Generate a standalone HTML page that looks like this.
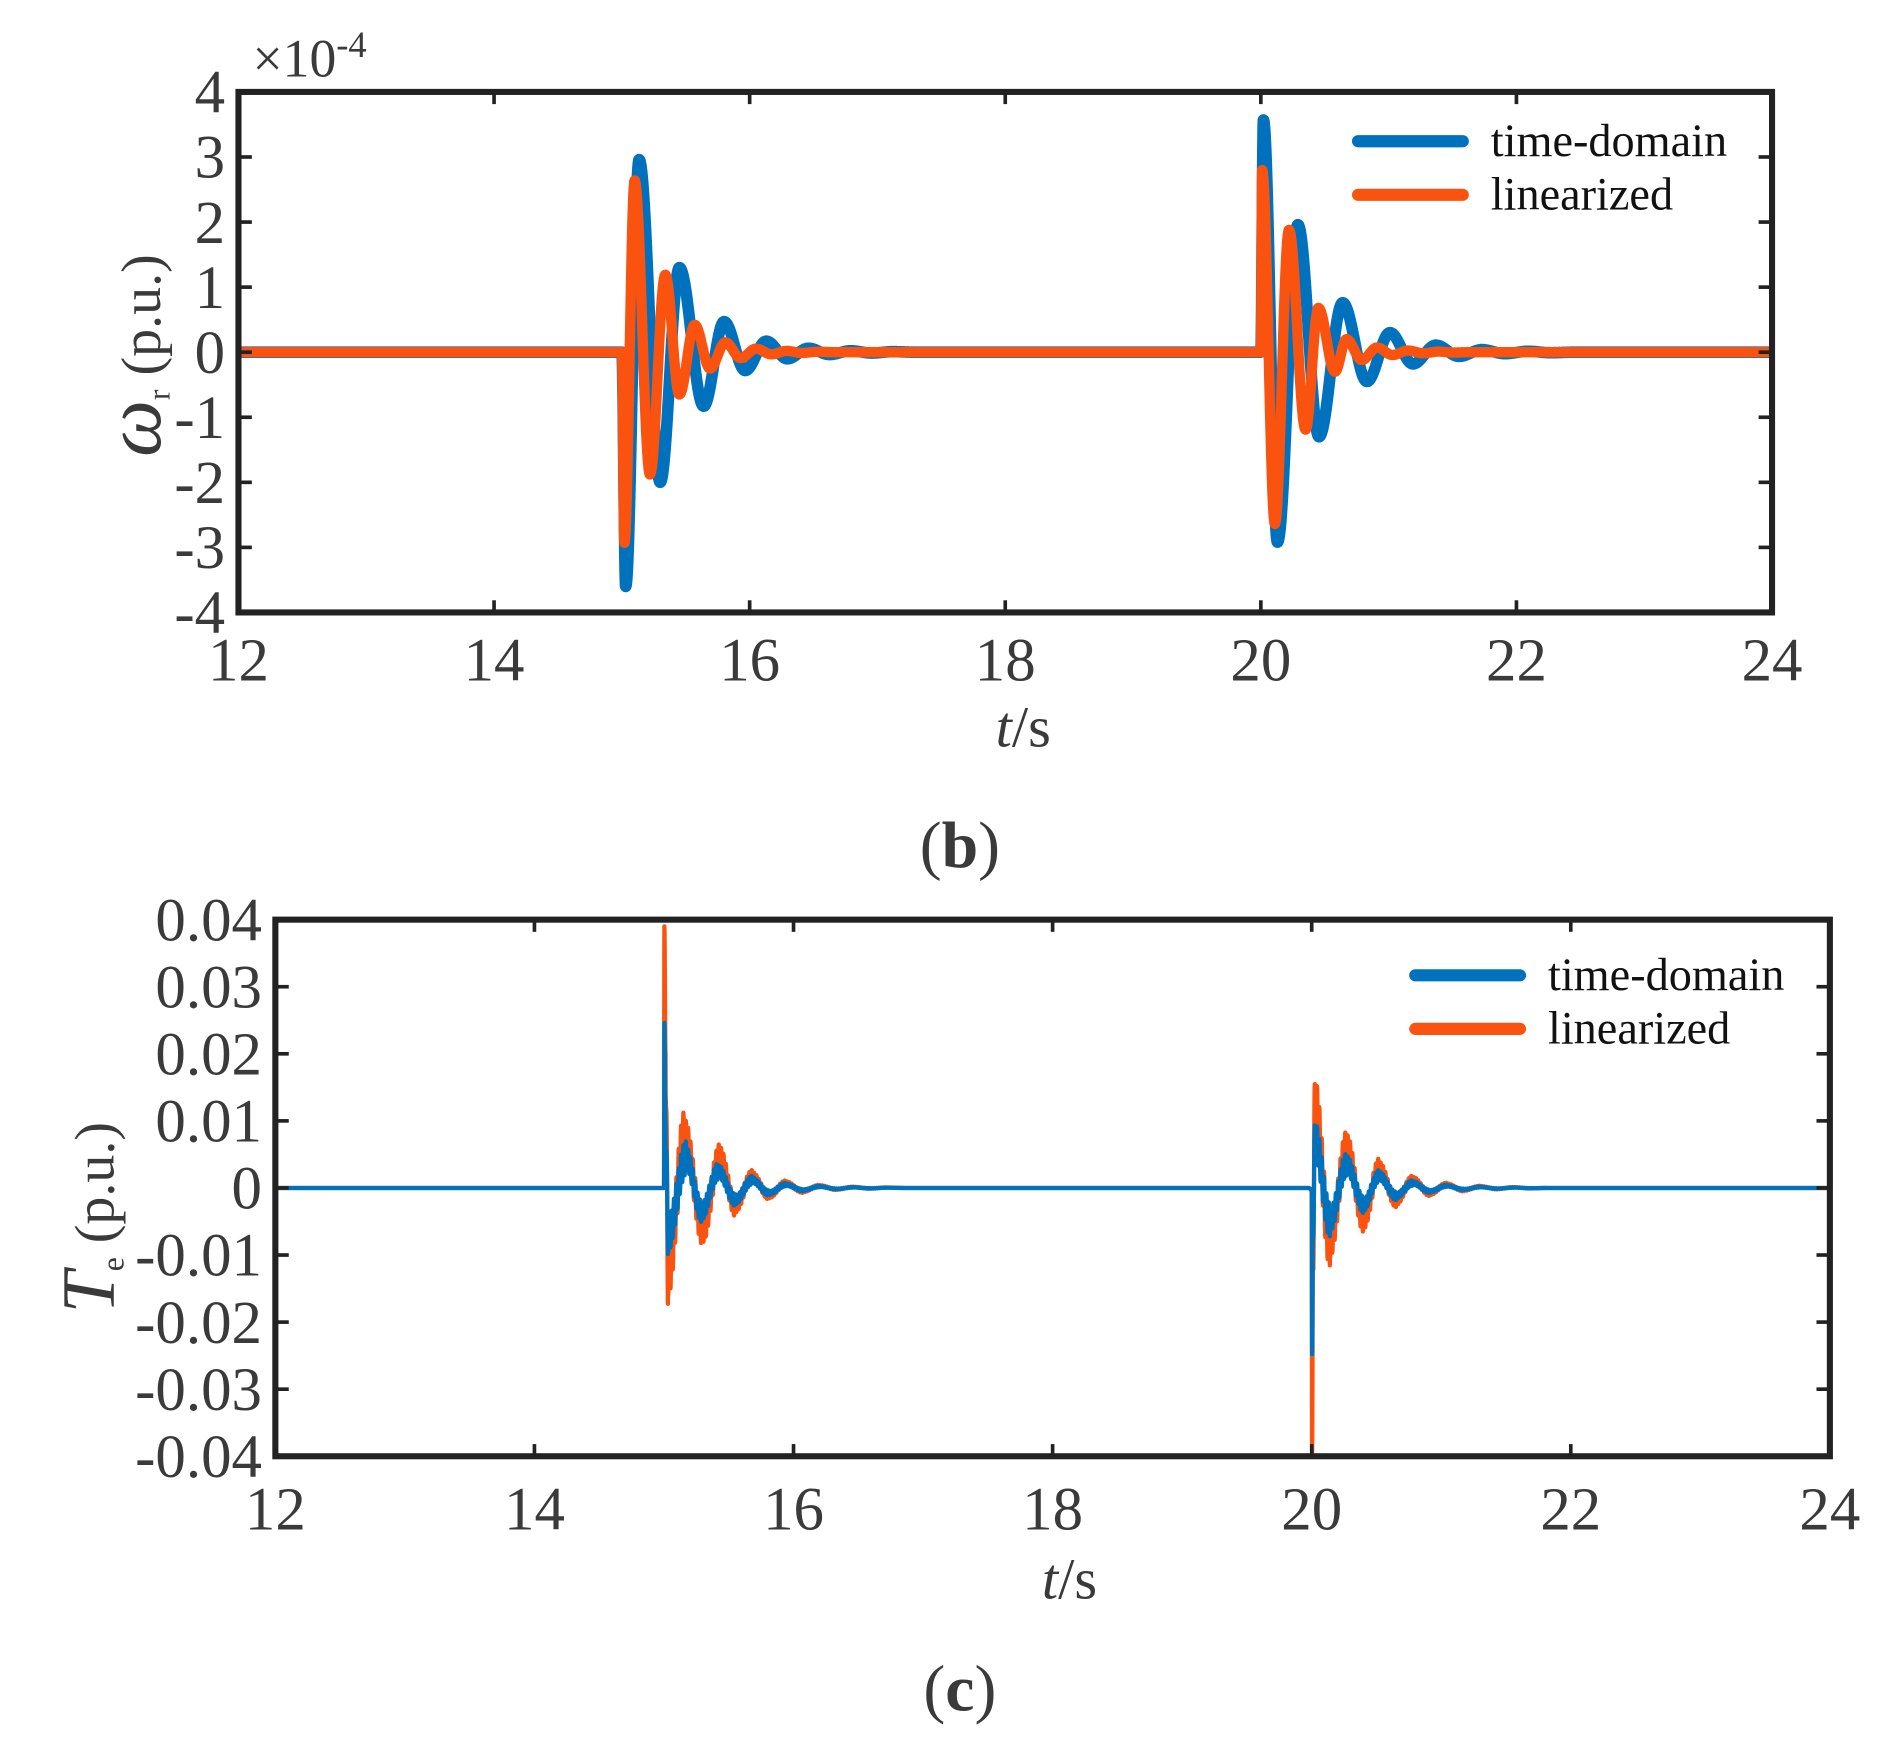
<!DOCTYPE html>
<html><head><meta charset="utf-8"><style>
html,body{margin:0;padding:0;background:#fff}
svg{display:block}
text{font-family:"Liberation Serif",serif;fill:#3a3a3a}
</style></head><body>
<svg id="s" width="1893" height="1757" viewBox="0 0 1554 1443" xmlns="http://www.w3.org/2000/svg">
<g id="gtop"></g>
<g id="gbot"></g>
<text x="207" y="63" font-size="44">×10<tspan dy="-16" font-size="30">-4</tspan></text>
<text x="840" y="613" font-size="48" text-anchor="middle"><tspan font-style="italic">t</tspan>/s</text>
<text x="788" y="712" font-size="54" text-anchor="middle">(<tspan font-weight="bold">b</tspan>)</text>
<text x="878" y="1313" font-size="48" text-anchor="middle"><tspan font-style="italic">t</tspan>/s</text>
<text x="788" y="1405" font-size="54" text-anchor="middle">(<tspan font-weight="bold">c</tspan>)</text>
<text transform="translate(131,292) rotate(-90)" font-size="46" text-anchor="middle"><tspan font-style="italic" font-size="66">ω</tspan><tspan font-size="26" dy="8">r</tspan><tspan dy="-8"> (p.u.)</tspan></text>
<text transform="translate(93,1000) rotate(-90)" font-size="46" text-anchor="middle"><tspan font-style="italic" font-size="62">T</tspan><tspan font-size="26" dy="8">e</tspan><tspan dy="-8"> (p.u.)</tspan></text>
</svg>
<script>
(function(){
const NS="http://www.w3.org/2000/svg";
function el(p,t,a,txt){const e=document.createElementNS(NS,t);for(const k in a)e.setAttribute(k,a[k]);if(txt!==undefined)e.textContent=txt;p.appendChild(e);return e;}
function axes(g,x0,x1,y0,y1,ylabels,legx,legy,xoff){
  const xs=[12,14,16,18,20,22,24];
  xs.forEach((v,i)=>{const x=x0+(x1-x0)*i/6;
    el(g,"line",{x1:x,x2:x,y1:y1,y2:y1-10,stroke:"#222","stroke-width":3});
    el(g,"line",{x1:x,x2:x,y1:y0,y2:y0+10,stroke:"#222","stroke-width":3});
    el(g,"text",{x:x,y:y1+xoff,"font-size":50,"text-anchor":"middle"},v);});
  ylabels.forEach((v,i)=>{const y=y0+(y1-y0)*i/(ylabels.length-1);
    el(g,"line",{x1:x0,x2:x0+11,y1:y,y2:y,stroke:"#222","stroke-width":3});
    el(g,"line",{x1:x1,x2:x1-11,y1:y,y2:y,stroke:"#222","stroke-width":3});
    el(g,"text",{x:x0-11,y:y+17,"font-size":50,"text-anchor":"end"},v);});
  el(g,"rect",{x:x0,y:y0,width:x1-x0,height:y1-y0,fill:"none",stroke:"#222","stroke-width":5});
  el(g,"line",{x1:legx,x2:legx+86,y1:legy,y2:legy,stroke:"#0072bd","stroke-width":10,"stroke-linecap":"round"});
  el(g,"line",{x1:legx,x2:legx+86,y1:legy+44,y2:legy+44,stroke:"#f9530f","stroke-width":10,"stroke-linecap":"round"});
  el(g,"text",{x:legx+109,y:legy+12,"font-size":38,fill:"#111",style:"fill:#111"},"time-domain");
  el(g,"text",{x:legx+109,y:legy+56,"font-size":38,fill:"#111",style:"fill:#111"},"linearized");
}
// extrema-based waveform
function mk(ext,half,ratio,n){
  const e=ext.slice();let [t,v]=e[e.length-1];
  for(let i=0;i<n;i++){t+=half;v=-v*ratio;e.push([t,v]);}
  e.push([t+half,0]);
  return e;
}
function evalE(e,t){
  if(t<e[0][0]||t>e[e.length-1][0])return 0;
  for(let i=0;i<e.length-1;i++){const a=e[i],b=e[i+1];if(t>=a[0]&&t<=b[0]){const u=(t-a[0])/(b[0]-a[0]);const w=(1-Math.cos(Math.PI*u))/2;return a[1]+(b[1]-a[1])*w;}}
  return 0;
}
function envE(e,t){ // local envelope
  if(t<e[0][0]||t>e[e.length-1][0])return 0;
  for(let i=0;i<e.length-1;i++){if(t>=e[i][0]&&t<=e[i+1][0])return Math.max(Math.abs(e[i][1]),Math.abs(e[i+1][1]));}
  return 0;
}
function path(g,f,X0,X1,Y0,yscale,col,w,busy){
  let d="";let t=12;
  while(t<=24.0001){const x=X0+(t-12)/12*(X1-X0);const y=Y0-f(t)*yscale;d+=(d?"L":"M")+x.toFixed(2)+" "+y.toFixed(2);
    t+= busy(t)?0.0006:0.02;}
  el(g,"path",{d:d,fill:"none",stroke:col,"stroke-width":w,"stroke-linejoin":"round"});
}
const gTop=document.getElementById("gtop"),gBot=document.getElementById("gbot");
// TOP
const TX0=195.5,TX1=1455,TY0=75.5,TY1=503,TZ=(TY0+TY1)/2,TS=(TY1-TY0)/8;
const b1=mk([[15.0,0],[15.03,-3.6],[15.135,2.96],[15.30,-2.0],[15.45,1.3],[15.64,-0.83],[15.80,0.47]],0.165,0.6,8);
const o1=mk([[15.0,0],[15.02,-2.93],[15.10,2.64],[15.22,-1.88],[15.34,1.19],[15.45,-0.65],[15.57,0.42]],0.12,0.6,8);
const b2=mk([[20.0,0],[20.02,3.57],[20.13,-2.92],[20.29,1.96],[20.455,-1.30],[20.64,0.76],[20.83,-0.45],[21.01,0.3]],0.18,0.6,7);
const o2=mk([[20.0,0],[20.01,2.8],[20.11,-2.64],[20.22,1.88],[20.35,-1.19],[20.45,0.68],[20.58,-0.3],[20.67,0.2]],0.12,0.6,7);
const busyT=t=>(t>14.98&&t<17.5)||(t>19.98&&t<22.5);
path(gTop,t=>evalE(b1,t)+evalE(b2,t),TX0,TX1,TZ,TS,"#0072bd",9.5,busyT);
path(gTop,t=>evalE(o1,t)+evalE(o2,t),TX0,TX1,TZ,TS,"#f9530f",8.5,busyT);
axes(gTop,TX0,TX1,TY0,TY1,["4","3","2","1","0","-1","-2","-3","-4"],1115,116,56);
// BOTTOM
const BX0=225.8,BX1=1502.5,BY0=755.3,BY1=1196,BZ=(BY0+BY1)/2,BS=(BY1-BY0)/0.08;
const ob1=mk([[15.0,0],[15.003,0.039],[15.012,0.02],[15.03,-0.0124],[15.16,0.0078],[15.3,-0.0062],[15.43,0.0047],[15.55,-0.0028]],0.13,0.65,9);
const bb1=mk([[15.0,0],[15.003,0.0246],[15.012,0.01],[15.03,-0.007],[15.17,0.0045],[15.29,-0.0035],[15.42,0.0025],[15.55,-0.0018]],0.13,0.65,9);
const ob2=mk([[20.0,0],[20.003,-0.0395],[20.01,-0.01],[20.025,0.0124],[20.14,-0.008],[20.27,0.0061],[20.40,-0.0047],[20.52,0.003]],0.13,0.65,9);
const bb2=mk([[20.0,0],[20.003,-0.0248],[20.01,-0.006],[20.025,0.0072],[20.14,-0.0048],[20.27,0.0035],[20.40,-0.0025],[20.52,0.0018]],0.13,0.65,9);
function fast(e,t,k){if(t<e[2][0])return 0;return k*envE(e,t)*Math.sin(2*Math.PI*55*t);}
const busyB=t=>(t>14.99&&t<17.2)||(t>19.99&&t<22.2);
path(gBot,t=>evalE(ob1,t)+evalE(ob2,t)+fast(ob1,t,0.3)+fast(ob2,t,0.3),BX0,BX1,BZ,BS,"#f9530f",3.5,busyB);
path(gBot,t=>evalE(bb1,t)+evalE(bb2,t)+fast(bb1,t,0.35)+fast(bb2,t,0.35),BX0,BX1,BZ,BS,"#0072bd",3.5,busyB);
axes(gBot,BX0,BX1,BY0,BY1,["0.04","0.03","0.02","0.01","0","-0.01","-0.02","-0.03","-0.04"],1162,801,60);
})();
</script>
</body></html>
